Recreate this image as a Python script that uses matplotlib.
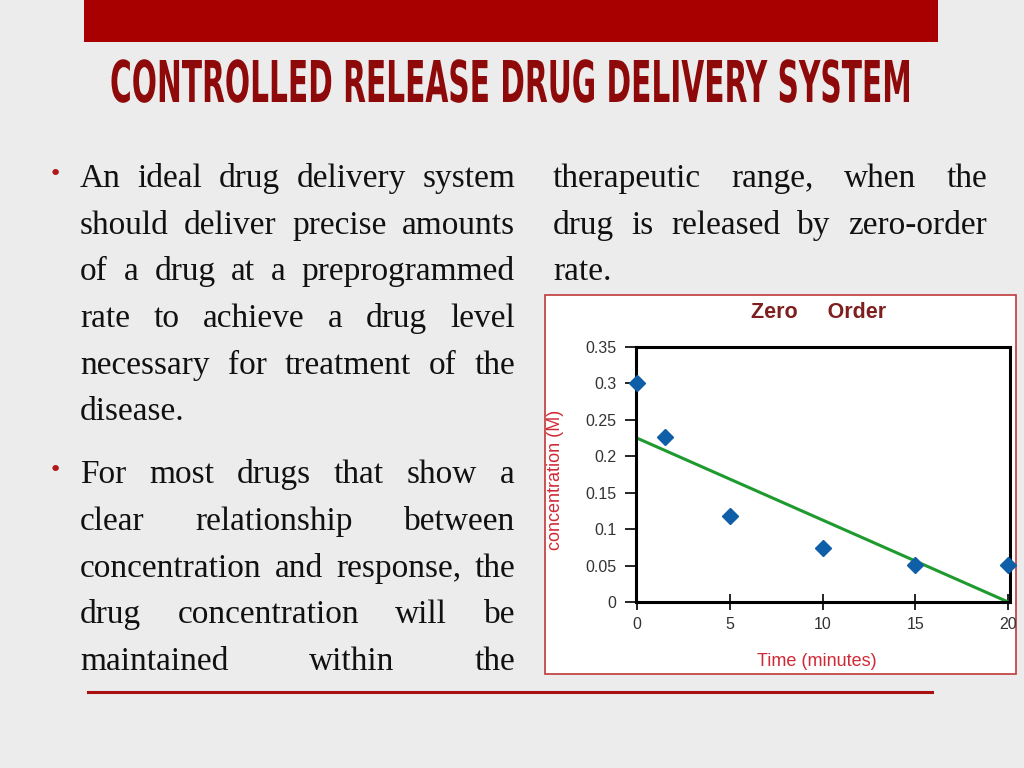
import matplotlib
matplotlib.use("Agg")
import matplotlib.pyplot as plt
from matplotlib import patheffects
from matplotlib.patches import Rectangle
from matplotlib.lines import Line2D
from matplotlib.transforms import Affine2D

W, H = 1024, 768

# chart data
time_min = [0, 1.5, 5, 10, 15, 20]
conc_m = [0.30, 0.226, 0.118, 0.074, 0.051, 0.051]
fit_time = [0, 20]
fit_conc = [0.225, 0.0]
x_ticks = [0, 5, 10, 15, 20]
y_ticks = [0, 0.05, 0.1, 0.15, 0.2, 0.25, 0.3, 0.35]
y_ticklabels = ["0", "0.05", "0.1", "0.15", "0.2", "0.25", "0.3", "0.35"]

title = "CONTROLLED RELEASE DRUG DELIVERY SYSTEM"

# slide text: (words, justified, bullet)
left_lines = [
    ("An ideal drug delivery system", True, True),
    ("should deliver precise amounts", True, False),
    ("of a drug at a preprogrammed", True, False),
    ("rate to achieve a drug level", True, False),
    ("necessary for treatment of the", True, False),
    ("disease.", False, False),
    ("For most drugs that show a", True, True),
    ("clear relationship between", True, False),
    ("concentration and response, the", True, False),
    ("drug concentration will be", True, False),
    ("maintained within the", True, False),
]
left_base = [187, 233.7, 280.3, 327, 373.7, 420.3, 483, 530, 576.7, 623, 670]
right_lines = [
    ("therapeutic range, when the", True, False),
    ("drug is released by zero-order", True, False),
    ("rate.", False, False),
]
right_base = [187, 233.7, 280.3]


class Stretch(patheffects.AbstractPathEffect):
    # rescale text around a display point (cx, cy)
    def __init__(self, sx, sy, cx, cy):
        super().__init__()
        self.sx, self.sy, self.cx, self.cy = sx, sy, cx, cy

    def draw_path(self, renderer, gc, tpath, affine, rgbFace=None):
        t = affine + Affine2D().translate(-self.cx, -self.cy).scale(self.sx, self.sy) \
            .translate(self.cx, self.cy)
        renderer.draw_path(gc, tpath, t, rgbFace)


fig = plt.figure(figsize=(W / 100, H / 100), dpi=100)
fig.patch.set_facecolor("#ECECEC")
renderer = fig.canvas.get_renderer()


def px(x, y):
    return x / W, 1 - y / H


# top red band and bottom rule
fig.add_artist(Rectangle(px(84, 42), 854 / W, 42 / H, transform=fig.transFigure,
                         facecolor="#A80000", edgecolor="none", zorder=-5))
fig.add_artist(Line2D([88 / W, 932 / W], [1 - 692 / H] * 2, transform=fig.transFigure,
                      color="#A81010", lw=2.2, zorder=-5))

# title: drawn small, then stretched to the slide's tall condensed look
title_pt = 26
tt = fig.text(511.5 / W, 1 - 102 / H, title, ha="center", va="baseline",
              fontsize=title_pt, fontweight="bold", family="DejaVu Sans", color="#8E0A0A")
tw = tt.get_window_extent(renderer).width
cap_px = title_pt * 100 / 72 * 0.729
tt.set_path_effects([Stretch(803 / tw, 42 / cap_px, 511.5, H - 102)])

# body text
body_size = 24
space_px = body_size * 100 / 72 * 0.25


def put_line(text, x0, x1, base, justify, bullet):
    words = text.split()
    objs = [fig.text(0, 1 - base / H, w, fontsize=body_size, family="Liberation Serif",
                     va="baseline", color="#111111") for w in words]
    widths = [o.get_window_extent(renderer).width for o in objs]
    gap = space_px
    if justify and len(words) > 1:
        gap = (x1 - x0 - sum(widths)) / (len(words) - 1)
    x = x0
    for o, w in zip(objs, widths):
        o.set_x(x / W)
        x += w + gap
    if bullet:
        fig.text(55 / W, 1 - (base - 13) / H, "\u2022", fontsize=16, family="DejaVu Sans",
                 color="#B01818", ha="center", va="center")


for (txt, j, b), yb in zip(left_lines, left_base):
    put_line(txt, 80, 515, yb, j, b)
for (txt, j, b), yb in zip(right_lines, right_base):
    put_line(txt, 553, 987, yb, j, b)

# chart box (behind the axes)
fig.add_artist(Rectangle(px(545, 674), 471 / W, 379 / H, transform=fig.transFigure,
                         facecolor="white", edgecolor="#C03A3A", lw=1.2, zorder=-5))

ax = fig.add_axes([636 / W, 1 - 602 / H, 374 / W, 255 / H])
ax.set_facecolor("white")
ax.plot(fit_time, fit_conc, color="#1E9A2E", lw=2.2, zorder=2)
ax.plot(time_min, conc_m, linestyle="none", marker="D", markersize=8.5,
        color="#0E5FA8", clip_on=False, zorder=3)
ax.set_xlim(-0.05, 20.1)
ax.set_ylim(0, 0.35)
ax.set_xticks(x_ticks)
ax.set_yticks(y_ticks)
ax.set_yticklabels(y_ticklabels)
for s in ax.spines.values():
    s.set_linewidth(2.2)
    s.set_color("black")
ax.tick_params(axis="y", direction="out", length=8, width=1.2, pad=6,
               labelsize=11.5, labelcolor="#333333")
ax.tick_params(axis="x", direction="inout", length=11, width=1.2, pad=5,
               labelsize=11.5, labelcolor="#333333")
for lab in ax.get_xticklabels() + ax.get_yticklabels():
    lab.set_family("Liberation Sans")
ax.set_ylabel("concentration (M)", color="#D02A36", fontsize=13, family="Liberation Sans")
ax.yaxis.set_label_coords(-0.192, 0.478)
ax.set_xlabel("Time (minutes)", color="#D02A36", fontsize=13, family="Liberation Sans")
ax.xaxis.set_label_coords(0.484, -0.20)
ax.set_title("Zero     Order", color="#7E1F1F", fontsize=15.5, fontweight="bold",
             family="Liberation Sans", x=0.487, y=1.08)

fig.savefig("out.png", dpi=100, facecolor=fig.get_facecolor())
